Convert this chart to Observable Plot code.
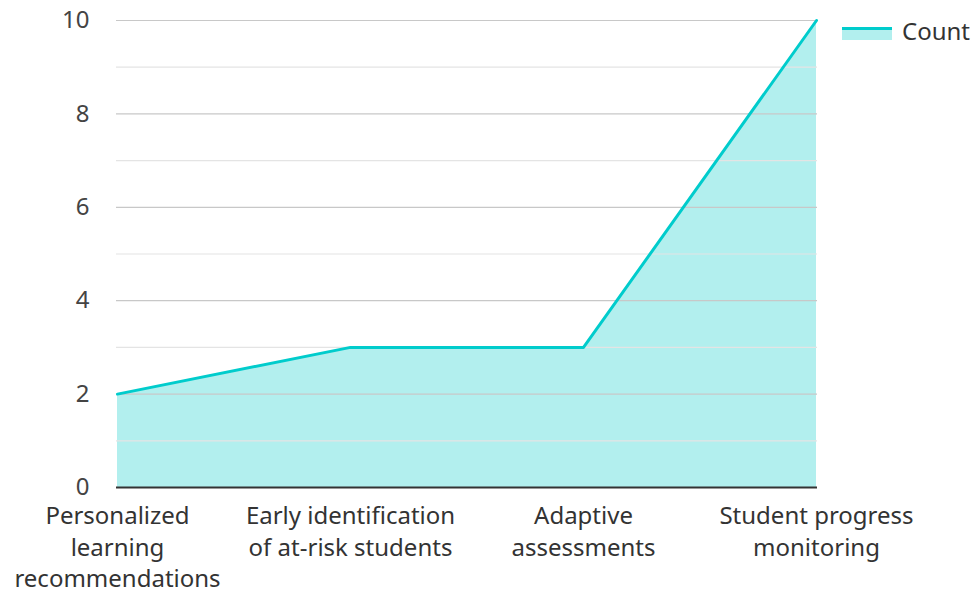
<!DOCTYPE html>
<html>
<head>
<meta charset="utf-8">
<script src="https://cdn.jsdelivr.net/npm/d3@7"></script>
<script src="https://cdn.jsdelivr.net/npm/@observablehq/plot@0.6"></script>
<style>
  body { margin: 0; background: #fff; font-family: "Noto Sans", sans-serif; }
  #wrap { position: relative; width: 975px; height: 590px; }
  #legend { position: absolute; left: 842px; top: 14px; display: flex; align-items: center; font-size: 24px; color: #333; }
  #swatch { width: 50px; height: 13px; background: #b2efee; border-top: 3px solid #00cccc; box-sizing: border-box; margin-right: 10px; margin-top: 6px; }
</style>
</head>
<body>
<div id="wrap">
  <div id="legend"><div id="swatch"></div><span>Count</span></div>
</div>
<script>
const categories = [
  "Personalized learning recommendations",
  "Early identification of at-risk students",
  "Adaptive assessments",
  "Student progress monitoring"
];
const tickLabels = [
  "Personalized\nlearning\nrecommendations",
  "Early identification\nof at-risk students",
  "Adaptive\nassessments",
  "Student progress\nmonitoring"
];
const counts = [2, 3, 3, 10];
const majorTicks = [0, 2, 4, 6, 8, 10];
const minorTicks = [1, 3, 5, 7, 9];

const data = categories.map((c, i) => ({category: c, count: counts[i]}));
const labelOf = new Map(categories.map((c, i) => [c, tickLabels[i]]));

const chart = Plot.plot({
  width: 975,
  height: 590,
  marginLeft: 116,
  marginRight: 158,
  marginTop: 20,
  marginBottom: 103,
  style: {fontFamily: "Noto Sans, sans-serif", fontSize: "24px", color: "#444", background: "transparent"},
  x: {type: "point", domain: categories, padding: 0},
  y: {domain: [0, 10]},
  marks: [
    Plot.areaY(data, {x: "category", y: "count", fill: "#b2efee"}),
    Plot.gridY(minorTicks, {stroke: "#e4e4e4", strokeOpacity: 1, strokeWidth: 1.2}),
    Plot.gridY(majorTicks.filter(d => d > 0), {stroke: "#c8c8c8", strokeOpacity: 1, strokeWidth: 1.2}),
    Plot.lineY(data, {x: "category", y: "count", stroke: "#00cccc", strokeWidth: 3}),
    Plot.ruleY([0], {stroke: "#333", strokeWidth: 2}),
    Plot.axisY(majorTicks, {tickSize: 0, tickPadding: 27, fontSize: 24, fill: "#444", label: null}),
    Plot.axisX({tickSize: 0, tickPadding: 14, fontSize: 24, fill: "#333", lineHeight: 1.32, lineAnchor: "top", label: null, tickFormat: d => labelOf.get(d)})
  ]
});
document.getElementById("wrap").prepend(chart);
chart.style.position = "absolute";
chart.style.left = "0";
chart.style.top = "0";
</script>
</body>
</html>
